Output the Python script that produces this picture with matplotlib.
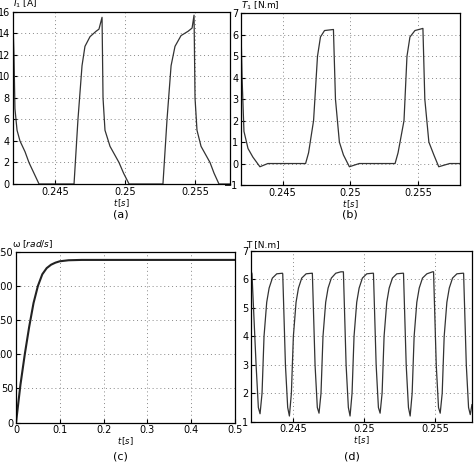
import matplotlib
matplotlib.use("Agg")
import matplotlib.pyplot as plt

# (a) phase current
ta = [0.24198, 0.24207, 0.24214, 0.24229, 0.2425, 0.24286, 0.24314, 0.2435, 0.24386,
      0.24636, 0.24664, 0.24693, 0.24714, 0.2475, 0.24793, 0.24814, 0.24836, 0.24843,
      0.24857, 0.24893, 0.24957, 0.2499, 0.25029, 0.25271, 0.253, 0.25329, 0.25357,
      0.254, 0.2545, 0.25479, 0.25493, 0.255, 0.25514, 0.25543, 0.25607, 0.25636,
      0.25671, 0.2575]
ia = [16, 12, 7, 5, 4, 3, 2, 1, 0,
      0, 6, 11, 12.8, 13.7, 14.2, 14.4, 15.5, 8,
      5, 3.5, 2, 1, 0, 0, 6, 11, 12.8,
      13.8, 14.2, 14.5, 15.7, 8, 5, 3.5, 2, 1,
      0, 0]

# (b) phase torque
tb = [0.24191, 0.24199, 0.24213, 0.24243, 0.24279, 0.24331, 0.24390, 0.24669, 0.24691,
      0.24728, 0.24757, 0.24779, 0.24809, 0.24875, 0.24890, 0.24919, 0.24949, 0.24993,
      0.25066, 0.25331, 0.25353, 0.25397, 0.25419, 0.25441, 0.25478, 0.25537, 0.25551,
      0.25581, 0.25618, 0.25654, 0.25735, 0.25809]
T1 = [6.3, 4, 1.5, 0.7, 0.3, -0.15, 0, 0, 0.5,
      2, 5, 5.9, 6.2, 6.25, 3, 1, 0.4, -0.15,
      0, 0, 0.5, 2, 5, 5.9, 6.2, 6.3, 3,
      1, 0.4, -0.15, 0, 0]

# (c) speed
tc = [0, 0.01, 0.02, 0.03, 0.04, 0.05, 0.06, 0.07, 0.08, 0.09, 0.1, 0.12, 0.15, 0.5]
wc = [0, 55, 100, 140, 175, 200, 217, 226, 231, 234, 236, 237.5, 238, 238]

# (d) total torque
td = [0.24201, 0.24208, 0.24237, 0.24253, 0.24265, 0.24279, 0.24293, 0.24312, 0.24329, 0.24352, 0.24383, 0.24423,
      0.24425, 0.24444, 0.24460, 0.24472, 0.24486, 0.24500, 0.24519, 0.24536, 0.24559, 0.24590, 0.24630,
      0.24634, 0.24653, 0.24669, 0.24681, 0.24695, 0.24709, 0.24728, 0.24745, 0.24768, 0.24799, 0.24835,
      0.24853, 0.24872, 0.24888, 0.24900, 0.24914, 0.24928, 0.24947, 0.24964, 0.24987, 0.25018, 0.25058,
      0.25065, 0.25084, 0.25100, 0.25112, 0.25126, 0.25140, 0.25159, 0.25176, 0.25199, 0.25230, 0.25270,
      0.25277, 0.25296, 0.25312, 0.25324, 0.25338, 0.25352, 0.25371, 0.25388, 0.25411, 0.25442, 0.25482,
      0.25489, 0.25508, 0.25524, 0.25536, 0.25550, 0.25564, 0.25583, 0.25600, 0.25623, 0.25654, 0.25694,
      0.25701, 0.25720, 0.25736, 0.25748, 0.25760]
Td = [6.3, 6.2, 3, 1.5, 1.28, 2, 4, 5.2, 5.7, 6.05, 6.2, 6.22,
      6.2, 3, 1.5, 1.2, 2, 4, 5.2, 5.7, 6.05, 6.2, 6.22,
      6.22, 3, 1.5, 1.3, 2, 4, 5.2, 5.7, 6.05, 6.22, 6.27,
      6.27, 3, 1.5, 1.2, 2, 4, 5.2, 5.7, 6.05, 6.2, 6.22,
      6.22, 3, 1.5, 1.3, 2, 4, 5.2, 5.7, 6.05, 6.2, 6.22,
      6.22, 3, 1.5, 1.2, 2, 4, 5.2, 5.7, 6.05, 6.2, 6.27,
      6.27, 3, 1.5, 1.3, 2, 4, 5.2, 5.7, 6.05, 6.2, 6.22,
      6.22, 3, 1.5, 1.25, 1.6]

tticks = [0.245, 0.25, 0.255]
tticklabels = ["0.245", "0.25", "0.255"]

plt.rcParams['font.size'] = 7
fig = plt.figure(figsize=(4.74, 4.65), dpi=100)

def style(ax):
    ax.grid(True, linestyle=(0, (1, 3)), color='#888888', linewidth=0.7)
    ax.tick_params(direction='in', length=3, pad=2, labelsize=7)
    for s in ax.spines.values():
        s.set_linewidth(0.9)

axa = fig.add_axes([0.0268, 0.6043, 0.4585, 0.370])
axa.plot(ta, ia, color='#333333', lw=0.9)
axa.set_xlim(0.24198, 0.2575); axa.set_ylim(0, 16)
axa.set_xticks(tticks); axa.set_xticklabels(tticklabels)
axa.set_yticks(range(0, 17, 2))
style(axa)
axa.set_xlabel("$t\\,[s]$", fontsize=6, labelpad=0)
axa.text(0.0, 1.01, "$I_1$ [A]", transform=axa.transAxes, fontsize=6.5, ha='left', va='bottom')
fig.text(121/474, 1-214/465, "(a)", ha='center', va='center', fontsize=8)

axb = fig.add_axes([0.5084, 0.6022, 0.4614, 0.369])
axb.plot(tb, T1, color='#333333', lw=0.9)
axb.set_xlim(0.24191, 0.25809); axb.set_ylim(-1, 7)
axb.set_xticks(tticks); axb.set_xticklabels(tticklabels)
axb.set_yticks(range(-1, 8))
style(axb)
axb.set_xlabel("$t\\,[s]$", fontsize=6, labelpad=0)
axb.text(0.0, 1.01, "$T_1$ [N.m]", transform=axb.transAxes, fontsize=6.5, ha='left', va='bottom')
fig.text(350/474, 1-214/465, "(b)", ha='center', va='center', fontsize=8)

axc = fig.add_axes([0.0338, 0.091, 0.462, 0.3677])
axc.plot(tc, wc, color='#222222', lw=1.5)
axc.set_xlim(0, 0.5); axc.set_ylim(0, 250)
axc.set_xticks([0, 0.1, 0.2, 0.3, 0.4, 0.5]); axc.set_xticklabels(["0", "0.1", "0.2", "0.3", "0.4", "0.5"])
axc.set_yticks(range(0, 251, 50))
style(axc)
axc.set_xlabel("$t\\,[s]$", fontsize=6, labelpad=0)
axc.text(-0.02, 1.01, "ω [$rad/s$]", transform=axc.transAxes, fontsize=6.5, ha='left', va='bottom')
fig.text(120/474, 1-456/465, "(c)", ha='center', va='center', fontsize=8)

axd = fig.add_axes([0.5295, 0.0931, 0.4662, 0.367])
axd.plot(td, Td, color='#333333', lw=0.9)
axd.set_xlim(0.24201, 0.25760); axd.set_ylim(1, 7)
axd.set_xticks(tticks); axd.set_xticklabels(tticklabels)
axd.set_yticks(range(1, 8))
style(axd)
axd.set_xlabel("$t\\,[s]$", fontsize=6, labelpad=0)
axd.text(-0.02, 1.01, "T [N.m]", transform=axd.transAxes, fontsize=6.5, ha='left', va='bottom')
fig.text(352/474, 1-456/465, "(d)", ha='center', va='center', fontsize=8)

fig.savefig("out.png", dpi=100)
